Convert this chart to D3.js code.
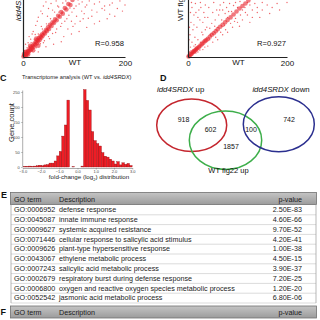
<!DOCTYPE html>
<html>
<head>
<meta charset="utf-8">
<script src="https://cdn.jsdelivr.net/npm/d3@7"></script>
<style>
  html, body { margin: 0; padding: 0; background: #fff; }
  svg { display: block; font-family: "Liberation Sans", Arial, sans-serif; }
</style>
</head>
<body>
<svg id="fig" width="320" height="320"></svg>
<script>
// ---- A: WT vs idd4SRDX scatter ----
const aCore = [[1,1],[3,3],[4,6],[6,5],[7,9],[9,8],[10,12],[12,11],[13,15],[15,14],[16,19],[18,17],[19,22],[21,20],
  [22,26],[24,24],[25,30],[27,27],[28,33],[30,31],[31,37],[33,34],[34,40],[36,38],[37,44],[39,42],[41,48],[43,46],
  [45,53],[47,51],[49,58],[51,55],[53,63],[56,61],[58,68],[61,67],[63,74],[66,72],[69,81],[72,79],[75,88],[78,85],
  [82,96],[85,93],[89,104],[93,102],[97,112],[5,10],[10,5],[14,22],[20,13],[26,36],[30,22],[2,6],[6,2]];
const aSpread = [[6,2],[10,5],[12,20],[18,12],[22,35],[26,18],[30,45],[34,26],[38,55],[42,32],[46,65],[50,40],
  [54,75],[58,46],[62,88],[66,55],[70,98],[74,60],[78,106],[82,70],[86,75],[90,82],[96,88],[100,95],[104,100],
  [110,104],[116,108],[122,98],[130,110],[140,104],[150,108],[160,100],[175,106],[190,110],[105,80],[120,85],
  [135,92],[98,60],[112,70],[128,76],[145,88],[160,92],[170,84],[185,95],[200,102],[80,40],[95,45],[110,50],
  [125,58],[140,65],[60,25],[75,30],[45,20],[30,10],[150,70],[165,75],[180,80],[15,35],[20,50],[25,62],[30,78],
  [35,90],[40,100],[45,108],[10,28],[18,45],[28,70],[38,85],[50,95],[55,105],[65,110],[8,18],[3,12],[5,25],
  [12,40],[48,80],[58,92],[68,100],[95,70],[115,90],[125,102],[135,80],[155,95],[170,102],[195,90],[88,55],
  [102,65],[118,75],[84,110],[92,96],[108,112],[76,66],[64,48],[52,36],[40,28],[36,60],[24,44],[16,28],[70,88]];
const rA = "R=0.958";

// ---- B: WT vs WT flg22 scatter ----
const bCore = [[1,1],[3,2],[5,5],[7,6],[9,9],[11,10],[13,12],[15,14],[17,16],[19,18],[22,20],[25,23],[28,26],
  [31,29],[34,32],[37,34],[40,37],[44,41],[48,45],[52,48],[56,52],[60,56],[65,61],[70,65],[75,70],[80,75],
  [86,80],[92,86],[98,92],[104,98],[110,103],[116,108],[122,114]];
const bSpread = [[3,10],[5,20],[8,30],[4,45],[10,55],[6,70],[12,85],[8,100],[15,108],[14,40],[18,60],[20,80],
  [22,95],[25,110],[28,50],[30,70],[32,90],[35,105],[38,60],[40,80],[42,100],[45,45],[48,68],[50,90],[52,110],
  [55,75],[58,95],[60,60],[62,85],[65,105],[68,75],[70,95],[72,110],[75,88],[78,100],[80,80],[84,108],[88,92],
  [92,104],[96,110],[100,100],[105,112],[110,95],[115,100],[120,110],[125,105],[130,95],[135,108],[140,100],
  [150,110],[160,105],[10,15],[15,25],[20,35],[25,30],[30,45],[35,55],[20,10],[30,15],[40,22],[50,30],[60,35],
  [70,45],[80,50],[90,60],[100,70],[110,75],[120,85],[130,80],[140,90],[150,95],[170,100],[180,108],[200,110],
  [6,12],[12,22],[16,8],[24,14],[34,20],[44,35],[56,40],[66,50],[76,55],[86,68],[96,78],[106,85],[116,90],
  [12,65],[16,90],[24,75],[26,100],[34,80],[44,58],[54,62],[64,95],[74,64],[82,92],[94,72],[104,62],[125,70],
  [145,80],[165,88],[185,95],[2,35],[3,60],[5,90],[7,110]];
const rB = "R=0.927";

// ---- C: fold-change histogram ----
const binStart = [-2.96,-2.82,-2.68,-2.54,-2.40,-2.26,-2.12,-1.98,-1.84,-1.70,-1.56,-1.42,-1.28,-1.14,-1.00,-0.86,-0.72,-0.58,
  -0.30,0.19,
  0.33,0.47,0.61,0.75,0.89,1.03,1.17,1.31,1.45,1.59,1.73,1.87,2.01,2.15,2.29,2.43,2.57,2.71,2.85];
const binCount = [2,2,3,2,3,4,6,4,7,8,13,13,20,37,52,103,140,223,
  1,3,
  258,222,190,118,88,78,70,48,36,33,26,20,10,18,7,14,9,12,5];
const binWidth = 0.14;
const histXTicks = [-3,-2,-1,0,1,2,3];
const histYTicks = [0,50,100,150,200,250];

// ---- D: Venn counts ----
const vennCounts = [
  { label: "918", x: 183.5, y: 121.7 },
  { label: "602", x: 210.5, y: 131.7 },
  { label: "100", x: 251, y: 131.7 },
  { label: "742", x: 289, y: 121.7 },
  { label: "1857", x: 231, y: 149.3 }
];

// ---- E: GO table ----
const goIds = ["GO:0006952","GO:0045087","GO:0009627","GO:0071446","GO:0009626","GO:0043067",
  "GO:0007243","GO:0002679","GO:0006800","GO:0052542"];
const goDesc = ["defense response","innate immune response","systemic acquired resistance",
  "cellular response to salicylic acid stimulus","plant-type hypersensitive response","ethylene metabolic process",
  "salicylic acid metabolic process","respiratory burst during defense response",
  "oxygen and reactive oxygen species metabolic process","jasmonic acid metabolic process"];
const goP = ["2.50E-83","4.60E-66","9.70E-52","4.20E-41","1.00E-38","4.50E-15","3.90E-37","7.20E-25","1.20E-20","6.80E-06"];

const svg = d3.select('#fig');
const red = '#e8232b';

// gradient for table header
const defs = svg.append('defs');
const grad = defs.append('linearGradient').attr('id', 'hdr').attr('x1', 0).attr('y1', 0).attr('x2', 0).attr('y2', 1);
grad.append('stop').attr('offset', '0%').attr('stop-color', '#c4c4c4');
grad.append('stop').attr('offset', '100%').attr('stop-color', '#9c9c9c');

function scatterPanel(core, spread, x, y, rText, yLabel, italic, labX) {
  const g = svg.append('g');
  g.selectAll(null).data(spread).join('circle')
    .attr('cx', d => x(d[0])).attr('cy', d => y(d[1])).attr('r', 0.7)
    .attr('fill', red).attr('fill-opacity', 0.7);
  g.selectAll(null).data(core).join('circle')
    .attr('cx', d => x(d[0])).attr('cy', d => y(d[1])).attr('r', 2.3)
    .attr('fill', red).attr('fill-opacity', 0.6);

  const xa = g.append('g').attr('transform', `translate(0,${y(0)})`)
    .call(d3.axisBottom(x).tickValues([0, 200]).tickSize(0).tickPadding(3));
  xa.select('.domain').attr('stroke', '#222').attr('stroke-width', 1.2);
  xa.selectAll('text').attr('font-size', 8).attr('fill', '#111').attr('font-family', 'Liberation Sans, Arial');
  const ya = g.append('g').attr('transform', `translate(${x(0)},0)`)
    .call(d3.axisLeft(y).tickValues([]).tickSizeOuter(0));
  ya.select('.domain').attr('stroke', '#222').attr('stroke-width', 1.2);

  g.append('text').attr('x', (x.range()[0] + x.range()[1]) / 2 + 1).attr('y', 64.5)
    .attr('text-anchor', 'middle').attr('font-size', 8).attr('fill', '#111').text('WT');
  g.append('text').attr('x', x(200) - 1).attr('y', 45.7).attr('text-anchor', 'end')
    .attr('font-size', 7.6).attr('fill', '#111').text(rText);
  g.append('text').attr('transform', `translate(${labX},21) rotate(-90)`)
    .attr('font-size', 8).attr('fill', '#111').attr('font-style', italic ? 'italic' : 'normal').text(yLabel);
}

const xA = d3.scaleLinear().domain([0, 200]).range([23, 125]);
const yA = d3.scaleLinear().domain([0, 200]).range([57, -45]);
scatterPanel(aCore, aSpread, xA, yA, rA, 'idd4SRDX', true, 20.7);

const xB = d3.scaleLinear().domain([0, 200]).range([188, 287]);
const yB = d3.scaleLinear().domain([0, 200]).range([57, -42]);
scatterPanel(bCore, bSpread, xB, yB, rB, 'WT flg22', false, 182.5);

// panel letters
[['C', 0, 80.5], ['D', 160, 80.5], ['E', 1, 197.5], ['F', 0.5, 315]].forEach(([t, x, y]) => {
  svg.append('text').attr('x', x).attr('y', y).attr('font-size', 9).attr('font-weight', 'bold')
    .attr('fill', '#111').text(t);
});

// ---- C histogram ----
const title = svg.append('text').attr('x', 22).attr('y', 78.5).attr('font-size', 5.7).attr('fill', '#222');
title.append('tspan').text('Transcriptome analysis (WT vs. ');
title.append('tspan').attr('font-style', 'italic').text('idd4SRDX');
title.append('tspan').text(')');

const xH = d3.scaleLinear().domain([-3, 3]).range([22.7, 132.3]);
const yH = d3.scaleLinear().domain([0, 250]).range([167, 92]);
const hist = binStart.map((s, i) => ({ s, c: binCount[i] }));
svg.append('g').selectAll('rect').data(hist).join('rect')
  .attr('x', d => xH(d.s)).attr('width', d => xH(d.s + binWidth) - xH(d.s))
  .attr('y', d => yH(d.c)).attr('height', d => yH(0) - yH(d.c))
  .attr('fill', '#ee1d25').attr('stroke', '#8e0c10').attr('stroke-width', 0.35);

const hx = svg.append('g').attr('transform', `translate(0,168)`)
  .call(d3.axisBottom(xH).tickValues(histXTicks).tickSize(1.5).tickSizeOuter(0).tickPadding(1));
const hy = svg.append('g').attr('transform', `translate(22.7,0)`)
  .call(d3.axisLeft(yH).tickValues(histYTicks).tickSize(1.5).tickSizeOuter(0).tickPadding(1.5));
[hx, hy].forEach(a => {
  a.select('.domain').attr('stroke', '#777').attr('stroke-width', 0.6);
  a.selectAll('.tick line').attr('stroke', '#777').attr('stroke-width', 0.5);
  a.selectAll('text').attr('font-size', 4).attr('fill', '#444').attr('font-family', 'Liberation Sans, Arial');
});
hy.select('.domain').attr('d', `M0,${yH(0)}V${yH(255)}`);

const xl = svg.append('text').attr('x', 89).attr('y', 179).attr('text-anchor', 'middle')
  .attr('font-size', 6.2).attr('fill', '#222');
xl.append('tspan').text('fold-change (log');
xl.append('tspan').attr('font-size', 4).attr('dy', 1.5).text('2');
xl.append('tspan').attr('dy', -1.5).text(') distribution');
svg.append('text').attr('transform', 'translate(13.5,122.5) rotate(-90)').attr('text-anchor', 'middle')
  .attr('font-size', 7.5).attr('fill', '#222').text('Gene count');

// ---- D Venn ----
const venn = svg.append('g').attr('fill', 'none').attr('stroke-width', 1.5);
venn.append('ellipse').attr('cx', 191.7).attr('cy', 125.3).attr('rx', 35).attr('ry', 26.3).attr('stroke', '#c4262e');
venn.append('ellipse').attr('cx', 225.5).attr('cy', 140.2).attr('rx', 36.2).attr('ry', 29.2).attr('stroke', '#3dae4a');
venn.append('ellipse').attr('cx', 278.8).attr('cy', 124.2).attr('rx', 35.5).attr('ry', 27.5).attr('stroke', '#2b2f8f');
svg.append('g').selectAll('text').data(vennCounts).join('text')
  .attr('x', d => d.x).attr('y', d => d.y).attr('text-anchor', 'middle')
  .attr('font-size', 7).attr('fill', '#111').text(d => d.label);
const upL = svg.append('text').attr('x', 157).attr('y', 92.3).attr('font-size', 7.8).attr('fill', '#111');
upL.append('tspan').attr('font-style', 'italic').text('idd4SRDX');
upL.append('tspan').text(' up');
const dnL = svg.append('text').attr('x', 281).attr('y', 92.3).attr('text-anchor', 'middle').attr('font-size', 7.8).attr('fill', '#111');
dnL.append('tspan').attr('font-style', 'italic').text('idd4SRDX');
dnL.append('tspan').text(' down');
svg.append('text').attr('x', 228.5).attr('y', 173).attr('text-anchor', 'middle')
  .attr('font-size', 7.5).attr('fill', '#111').text('WT flg22 up');

// ---- E / F tables ----
function header(y0) {
  const g = svg.append('g');
  g.append('rect').attr('x', 10.5).attr('y', y0).attr('width', 306).attr('height', 12)
    .attr('fill', 'url(#hdr)').attr('stroke', '#707070').attr('stroke-width', 0.8);
  g.append('text').attr('x', 14).attr('y', y0 + 9).attr('font-size', 7.2).attr('fill', '#1a1a1a').text('GO term');
  g.append('text').attr('x', 59).attr('y', y0 + 9).attr('font-size', 7.2).attr('fill', '#1a1a1a').text('Description');
  g.append('text').attr('x', 302).attr('y', y0 + 9).attr('text-anchor', 'end').attr('font-size', 7.2).attr('fill', '#1a1a1a').text('p-value');
}
header(192.5);
const rowY = d3.scaleBand().domain(d3.range(goIds.length)).range([205, 303]);
const rows = svg.append('g').selectAll('g').data(goIds).join('g')
  .attr('transform', (d, i) => `translate(0,${rowY(i)})`);
rows.append('line').attr('x1', 11).attr('x2', 316).attr('y1', rowY.bandwidth()).attr('y2', rowY.bandwidth())
  .attr('stroke', '#c2c2c2').attr('stroke-width', 0.6);
rows.append('text').attr('x', 14).attr('y', 7.3).attr('font-size', 7.2).attr('fill', '#222').text(d => d);
rows.append('text').attr('x', 59).attr('y', 7.3).attr('font-size', 7.2).attr('fill', '#222').text((d, i) => goDesc[i]);
rows.append('text').attr('x', 302).attr('y', 7.3).attr('text-anchor', 'end').attr('font-size', 7.2).attr('fill', '#222').text((d, i) => goP[i]);
svg.append('line').attr('x1', 11).attr('x2', 11).attr('y1', 204.5).attr('y2', 303).attr('stroke', '#9a9a9a').attr('stroke-width', 0.7);
svg.append('line').attr('x1', 316).attr('x2', 316).attr('y1', 204.5).attr('y2', 303).attr('stroke', '#9a9a9a').attr('stroke-width', 0.7);
header(306);
</script>
</body>
</html>
